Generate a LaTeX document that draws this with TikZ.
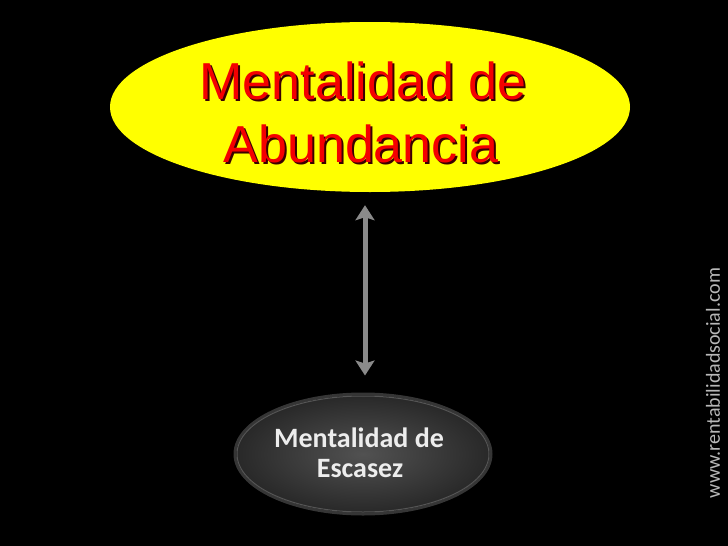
\documentclass[tikz,border=0pt]{standalone}
\usepackage{fontspec}
\setmainfont{Liberation Sans}
\newfontfamily\calib{Carlito}
\usetikzlibrary{shapes.geometric,arrows.meta}
\definecolor{ybg}{HTML}{FFFF00}
\definecolor{redtxt}{HTML}{F40000}
\definecolor{shadowtxt}{HTML}{3A0000}
\definecolor{darkell}{HTML}{333333}
\definecolor{ellborder}{HTML}{6A6A6A}
\definecolor{arrowgray}{HTML}{8A8A8A}
\definecolor{wmark}{HTML}{B8B8B8}
\definecolor{lighttxt}{HTML}{EDEDED}
\newcommand{\shadowedtext}[1]{\makebox[0pt][l]{\hspace{2pt}\raisebox{-2pt}{\textcolor{shadowtxt}{#1}}}\textcolor{redtxt}{#1}}
\tikzset{
  bigtxt/.style={font=\fontsize{52}{52}\selectfont, anchor=base, inner sep=0pt},
  smalltxt/.style={font=\calib\fontsize{28}{28}\selectfont\bfseries, text=lighttxt, anchor=base, inner sep=0pt},
  mytip/.tip={Stealth[length=15pt,width=19pt,inset=3pt]},
}
\begin{document}
\begin{tikzpicture}[x=1pt,y=-1pt]
\fill[black] (0,0) rectangle (728,546);
\useasboundingbox (0,0) rectangle (728,546);
% top ellipse
\node[ellipse, fill=ybg, minimum width=520pt, minimum height=170pt, inner sep=0pt] (top) at (370,107) {};
\node[bigtxt] (t1) at (363,99) {\shadowedtext{Mentalidad de}};
\node[bigtxt] (t2) at (361,162) {\shadowedtext{Abundancia}};
% bottom ellipse
\node[ellipse, draw=ellborder, line width=3pt, opacity=0.5, minimum width=256pt, minimum height=120pt, inner sep=0pt] (botglow) at (363,454) {};
\node[ellipse, inner color=darkell!85!white, outer color=darkell!80!black, draw=ellborder!80!black, line width=1pt, minimum width=252pt, minimum height=116pt, inner sep=0pt] (bot) at (363,454) {};
\node[smalltxt] (b1) at (359,447) {Mentalidad de};
\node[smalltxt] (b2) at (360,477) {Escasez};
% arrow
\coordinate (ax) at (365,0);
\draw[arrowgray, line width=5pt, mytip-mytip, shorten <=13pt, shorten >=20pt] (top.south -| ax) -- (bot.north -| ax);
% watermark
\node[font=\calib\fontsize{20}{20}\selectfont, text=wmark, rotate=90, inner sep=0pt] (wm) at (713,383) {www.rentabilidadsocial.com};
\end{tikzpicture}
\end{document}
